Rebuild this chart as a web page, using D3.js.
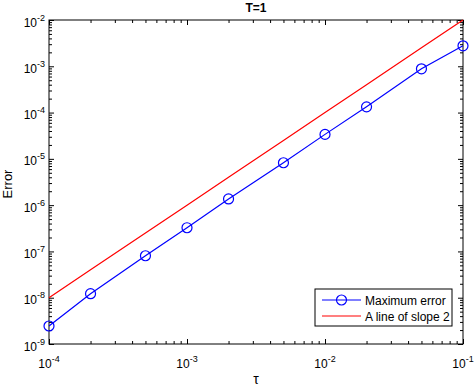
<!DOCTYPE html>
<html><head><meta charset="utf-8">
<script src="https://cdn.jsdelivr.net/npm/d3@7"></script>
<style>body{margin:0;background:#fff}svg text{font-family:"Liberation Sans",Arial,sans-serif}</style>
</head><body><svg id="c" width="474" height="391"></svg>
<script>
const tau = [1e-4, 2e-4, 5e-4, 1e-3, 2e-3, 5e-3, 1e-2, 2e-2, 5e-2, 1e-1];
const maxError = [2.45e-9, 1.22e-8, 8.07e-8, 3.25e-7, 1.36e-6, 8.24e-6, 3.38e-5, 1.33e-4, 8.83e-4, 2.77e-3];
const slope2 = [1e-8, 4e-8, 2.5e-7, 1e-6, 4e-6, 2.5e-5, 1e-4, 4e-4, 2.5e-3, 1e-2];
const xDomain = [1e-4, 1e-1];
const yDomain = [1e-9, 1e-2];
const legendLabels = ["Maximum error", "A line of slope 2"];
const title = "T=1", xLabel = "τ", yLabel = "Error";

const svg = d3.select("#c");
const L = 49, R = 463, T = 20, B = 344;
const x = d3.scaleLog().domain(xDomain).range([L, R]);
const y = d3.scaleLog().domain(yDomain).range([B, T]);
const isMajor = v => Math.abs(Math.log10(v) - Math.round(Math.log10(v))) < 1e-9;

function styleAxis(g, sign, horiz) {
  g.select(".domain").remove();
  g.selectAll(".tick line").attr("stroke", "#000").each(function(d) {
    const len = (isMajor(d) ? 5 : 3) * sign;
    d3.select(this).attr(horiz ? "y2" : "x2", len);
  });
  g.selectAll(".tick text").remove();
}
const xt = x.ticks(), yt = y.ticks();
svg.append("g").attr("transform", `translate(0,${B})`).call(d3.axisBottom(x).tickValues(xt).tickFormat(""))
  .call(g => styleAxis(g, -1, true));
svg.append("g").attr("transform", `translate(0,${T})`).call(d3.axisTop(x).tickValues(xt).tickFormat(""))
  .call(g => styleAxis(g, 1, true));
svg.append("g").attr("transform", `translate(${L},0)`).call(d3.axisLeft(y).tickValues(yt).tickFormat(""))
  .call(g => styleAxis(g, 1, false));
svg.append("g").attr("transform", `translate(${R},0)`).call(d3.axisRight(y).tickValues(yt).tickFormat(""))
  .call(g => styleAxis(g, -1, false));
svg.append("rect").attr("x", L).attr("y", T).attr("width", R - L).attr("height", B - T)
  .attr("fill", "none").attr("stroke", "#000").attr("stroke-width", 1);

// tick labels
xt.filter(isMajor).forEach(v => {
  const t = svg.append("text").attr("x", x(v)).attr("y", 368).attr("text-anchor", "middle")
    .attr("font-size", 12).attr("fill", "#000");
  t.append("tspan").text("10");
  t.append("tspan").attr("dy", -6).attr("font-size", 9).text(Math.round(Math.log10(v)));
});
yt.filter(isMajor).forEach(v => {
  const t = svg.append("text").attr("x", 45).attr("y", y(v) + 6.5).attr("text-anchor", "end")
    .attr("font-size", 12).attr("fill", "#000");
  t.append("tspan").text("10");
  t.append("tspan").attr("dy", -6).attr("font-size", 9).text(Math.round(Math.log10(v)));
});

// red line
svg.append("path").datum(tau.map((t, i) => [t, slope2[i]]))
  .attr("d", d3.line().x(d => x(d[0])).y(d => y(d[1])))
  .attr("fill", "none").attr("stroke", "#ff0000").attr("stroke-width", 1.2);
// blue line
svg.append("path").datum(tau.map((t, i) => [t, maxError[i]]))
  .attr("d", d3.line().x(d => x(d[0])).y(d => y(d[1])))
  .attr("fill", "none").attr("stroke", "#0000ff").attr("stroke-width", 1.2);
svg.selectAll("circle.m").data(tau.map((t, i) => [t, maxError[i]])).join("circle")
  .attr("class", "m").attr("cx", d => x(d[0])).attr("cy", d => y(d[1])).attr("r", 5)
  .attr("fill", "none").attr("stroke", "#0000ff").attr("stroke-width", 1.2);

// titles
svg.append("text").attr("x", (L + R) / 2).attr("y", 12).attr("text-anchor", "middle")
  .attr("font-size", 12).attr("font-weight", "bold").text(title);
svg.append("text").attr("x", (L + R) / 2).attr("y", 384).attr("text-anchor", "middle")
  .attr("font-size", 14).text(xLabel);
svg.append("text").attr("transform", `translate(12,${(T + B) / 2 + 2}) rotate(-90)`).attr("text-anchor", "middle")
  .attr("font-size", 13).text(yLabel);

// legend
const lg = svg.append("g");
lg.append("rect").attr("x", 315).attr("y", 289).attr("width", 137).attr("height", 37)
  .attr("fill", "#fff").attr("stroke", "#000").attr("stroke-width", 1);
const colors = ["#0000ff", "#ff0000"];
legendLabels.forEach((lab, i) => {
  const yy = 300 + i * 16;
  lg.append("line").attr("x1", 322).attr("x2", 361).attr("y1", yy).attr("y2", yy)
    .attr("stroke", colors[i]).attr("stroke-width", 1.2);
  if (i === 0) lg.append("circle").attr("cx", 341.5).attr("cy", yy).attr("r", 5)
    .attr("fill", "none").attr("stroke", colors[i]).attr("stroke-width", 1.2);
  lg.append("text").attr("x", 365).attr("y", yy + 4.5).attr("font-size", 12).text(lab);
});
</script></body></html>
